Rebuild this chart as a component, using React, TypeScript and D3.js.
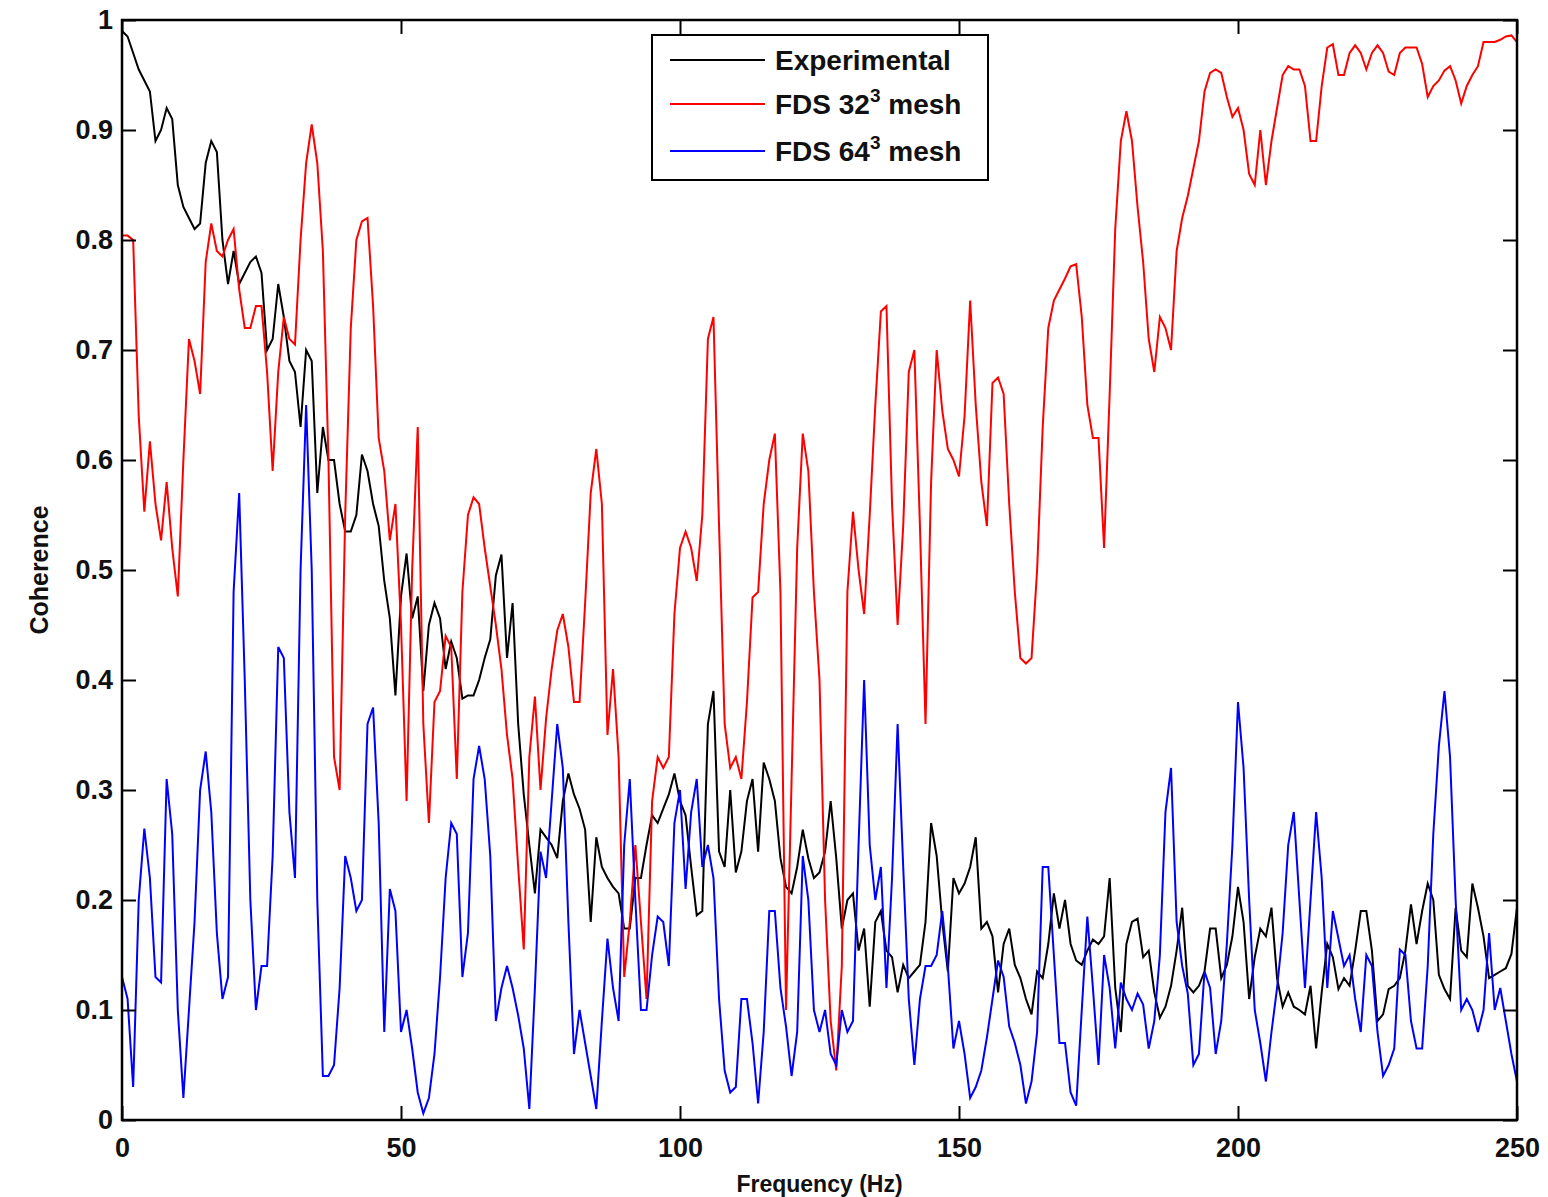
import * as d3 from "d3";
import { useEffect, useRef } from "react";

// frequency spacing of the samples below (Hz)
const FREQ_STEP = 1;

const xTicks = [0, 50, 100, 150, 200, 250];
const yTicks = [0, 0.1, 0.2, 0.3, 0.4, 0.5, 0.6, 0.7, 0.8, 0.9, 1];

const experimental = [
  0.99, 0.985, 0.97, 0.955, 0.945, 0.935, 0.89, 0.9, 0.92, 0.91,
  0.85, 0.83, 0.82, 0.81, 0.815, 0.87, 0.89, 0.88, 0.8, 0.76,
  0.79, 0.76, 0.77, 0.78, 0.785, 0.77, 0.7, 0.71, 0.76, 0.73,
  0.69, 0.68, 0.63, 0.7, 0.69, 0.57, 0.63, 0.6, 0.6, 0.56,
  0.535, 0.535, 0.55, 0.605, 0.59, 0.56, 0.54, 0.49, 0.456, 0.386,
  0.476, 0.515, 0.456, 0.476, 0.39, 0.45, 0.47, 0.456, 0.41, 0.435,
  0.42, 0.383, 0.386, 0.386, 0.4, 0.42, 0.437, 0.495, 0.514, 0.42,
  0.47, 0.36, 0.296, 0.25, 0.206, 0.264, 0.257, 0.25, 0.238, 0.29,
  0.315, 0.296, 0.283, 0.264, 0.18, 0.257, 0.23, 0.22, 0.212, 0.206,
  0.174, 0.174, 0.22, 0.22, 0.25, 0.277, 0.27, 0.283, 0.296, 0.315,
  0.29, 0.277, 0.23, 0.186, 0.19, 0.36, 0.39, 0.244, 0.23, 0.3,
  0.225, 0.244, 0.29, 0.31, 0.244, 0.325, 0.31, 0.29, 0.238, 0.212,
  0.206, 0.23, 0.264, 0.238, 0.22, 0.225, 0.244, 0.29, 0.238, 0.174,
  0.2, 0.206, 0.154, 0.174, 0.103, 0.18, 0.19, 0.154, 0.148, 0.116,
  0.141, 0.129, 0.135, 0.141, 0.18, 0.27, 0.24, 0.18, 0.135, 0.22,
  0.206, 0.215, 0.23, 0.257, 0.174, 0.18, 0.167, 0.116, 0.16, 0.174,
  0.141, 0.129, 0.11, 0.096, 0.135, 0.129, 0.16, 0.206, 0.174, 0.2,
  0.16, 0.145, 0.141, 0.154, 0.164, 0.16, 0.167, 0.22, 0.12, 0.08,
  0.16, 0.18, 0.183, 0.148, 0.154, 0.116, 0.093, 0.103, 0.122, 0.154,
  0.193, 0.122, 0.116, 0.122, 0.135, 0.174, 0.174, 0.129, 0.141, 0.167,
  0.212, 0.18, 0.11, 0.148, 0.174, 0.167, 0.193, 0.129, 0.103, 0.116,
  0.103, 0.1, 0.096, 0.122, 0.065, 0.116, 0.16, 0.148, 0.119, 0.129,
  0.122, 0.154, 0.19, 0.19, 0.154, 0.09, 0.096, 0.119, 0.122, 0.129,
  0.154, 0.196, 0.16, 0.19, 0.215, 0.2, 0.132, 0.119, 0.11, 0.193,
  0.154, 0.148, 0.215, 0.193, 0.167, 0.129, 0.132, 0.135, 0.138, 0.151,
  0.193,
];

const fds32 = [
  0.804, 0.804, 0.8, 0.64, 0.553, 0.617, 0.56, 0.527, 0.58, 0.52,
  0.476, 0.6, 0.71, 0.69, 0.66, 0.78, 0.815, 0.79, 0.785, 0.8,
  0.81, 0.755, 0.72, 0.72, 0.74, 0.74, 0.68, 0.59, 0.68, 0.73,
  0.71, 0.705, 0.8, 0.87, 0.905, 0.87, 0.79, 0.6, 0.33, 0.3,
  0.55, 0.72, 0.8, 0.817, 0.82, 0.74, 0.62, 0.59, 0.527, 0.56,
  0.45, 0.29, 0.5, 0.63, 0.36, 0.27, 0.38, 0.39, 0.44, 0.43,
  0.31, 0.48, 0.55, 0.566, 0.56, 0.52, 0.485, 0.45, 0.41, 0.35,
  0.31, 0.23, 0.155, 0.33, 0.385, 0.3, 0.365, 0.41, 0.445, 0.46,
  0.43, 0.38, 0.38, 0.47, 0.57, 0.61, 0.56, 0.35, 0.41, 0.33,
  0.13, 0.18, 0.25, 0.18, 0.11, 0.29, 0.33, 0.32, 0.33, 0.46,
  0.52, 0.535, 0.52, 0.49, 0.55, 0.71, 0.73, 0.54, 0.36, 0.32,
  0.33, 0.31, 0.38, 0.475, 0.48, 0.56, 0.6, 0.624, 0.48, 0.1,
  0.31, 0.52, 0.624, 0.59, 0.48, 0.4, 0.2, 0.09, 0.045, 0.14,
  0.48, 0.553, 0.5, 0.46, 0.55, 0.65, 0.735, 0.74, 0.56, 0.45,
  0.54, 0.68, 0.7, 0.54, 0.36, 0.58, 0.7, 0.645, 0.61, 0.6,
  0.585, 0.64, 0.745, 0.65, 0.58, 0.54, 0.67, 0.675, 0.66, 0.56,
  0.48, 0.42, 0.415, 0.42, 0.5, 0.63, 0.72, 0.745, 0.755, 0.765,
  0.776, 0.778, 0.73, 0.65, 0.62, 0.62, 0.52, 0.66, 0.81, 0.89,
  0.917, 0.89, 0.83, 0.78, 0.71, 0.68, 0.73, 0.72, 0.7, 0.79,
  0.82, 0.84, 0.865, 0.89, 0.935, 0.952, 0.955, 0.952, 0.93, 0.912,
  0.92, 0.9, 0.86, 0.85, 0.9, 0.85, 0.89, 0.92, 0.95, 0.958,
  0.955, 0.955, 0.94, 0.89, 0.89, 0.94, 0.975, 0.978, 0.95, 0.95,
  0.97, 0.977, 0.97, 0.955, 0.97, 0.977, 0.97, 0.953, 0.95, 0.97,
  0.975, 0.975, 0.975, 0.96, 0.93, 0.94, 0.945, 0.954, 0.958, 0.945,
  0.924, 0.94, 0.95, 0.958, 0.98, 0.98, 0.98, 0.982, 0.985, 0.986,
  0.98,
];

const fds64 = [
  0.13, 0.11, 0.03, 0.2, 0.265, 0.22, 0.13, 0.125, 0.31, 0.26,
  0.1, 0.02, 0.1, 0.18, 0.3, 0.335, 0.28, 0.17, 0.11, 0.13,
  0.48, 0.57, 0.4, 0.2, 0.1, 0.14, 0.14, 0.24, 0.43, 0.42,
  0.28, 0.22, 0.5, 0.65, 0.5, 0.2, 0.04, 0.04, 0.05, 0.12,
  0.24, 0.22, 0.19, 0.2, 0.36, 0.375, 0.27, 0.08, 0.21, 0.19,
  0.08, 0.1, 0.065, 0.025, 0.006, 0.02, 0.06, 0.13, 0.22, 0.27,
  0.26, 0.13, 0.17, 0.31, 0.34, 0.31, 0.24, 0.09, 0.12, 0.14,
  0.12, 0.095, 0.065, 0.01, 0.12, 0.244, 0.22, 0.29, 0.36, 0.32,
  0.18, 0.06, 0.1, 0.07, 0.04, 0.01, 0.09, 0.165, 0.12, 0.09,
  0.25, 0.31, 0.2, 0.1, 0.1, 0.15, 0.185, 0.18, 0.14, 0.27,
  0.3, 0.21, 0.28, 0.31, 0.23, 0.25, 0.22, 0.11, 0.045, 0.025,
  0.03, 0.11, 0.11, 0.07, 0.015, 0.08, 0.19, 0.19, 0.12, 0.085,
  0.04, 0.08, 0.24, 0.2, 0.1, 0.08, 0.1, 0.06, 0.05, 0.1,
  0.08, 0.09, 0.25, 0.4, 0.25, 0.2, 0.23, 0.12, 0.22, 0.36,
  0.23, 0.11, 0.05, 0.11, 0.14, 0.14, 0.15, 0.19, 0.14, 0.065,
  0.09, 0.06, 0.02, 0.03, 0.045, 0.075, 0.11, 0.145, 0.13, 0.085,
  0.07, 0.05, 0.015, 0.035, 0.08, 0.23, 0.23, 0.15, 0.07, 0.07,
  0.025, 0.013, 0.1, 0.185, 0.12, 0.05, 0.15, 0.12, 0.065, 0.125,
  0.11, 0.1, 0.115, 0.105, 0.065, 0.09, 0.15, 0.28, 0.32, 0.18,
  0.14, 0.115, 0.05, 0.06, 0.135, 0.12, 0.06, 0.09, 0.16, 0.25,
  0.38, 0.32, 0.2, 0.1, 0.07, 0.035, 0.08, 0.12, 0.17, 0.25,
  0.28, 0.2, 0.12, 0.2, 0.28, 0.22, 0.12, 0.19, 0.165, 0.14,
  0.15, 0.11, 0.08, 0.15, 0.14, 0.08, 0.04, 0.05, 0.065, 0.155,
  0.15, 0.09, 0.065, 0.065, 0.14, 0.26, 0.34, 0.39, 0.33, 0.2,
  0.1, 0.11, 0.1, 0.08, 0.1, 0.17, 0.1, 0.12, 0.09, 0.06,
  0.035,
];

const seriesNames = ["Experimental", "FDS 32", "FDS 64"];
const seriesSup = ["", "3", "3"];
const seriesColors = ["#000000", "#ff0000", "#0000ff"];

export default function App() {
  const ref = useRef<SVGSVGElement>(null);

  useEffect(() => {
    const svg = d3.select(ref.current);
    svg.selectAll("*").remove();

    const width = 1548;
    const height = 1197;
    const left = 122;
    const right = 1517;
    const top = 20;
    const bottom = 1120;
    const font = '"Liberation Sans", Arial, Helvetica, sans-serif';

    svg.attr("viewBox", `0 0 ${width} ${height}`);
    svg.append("rect").attr("width", width).attr("height", height).attr("fill", "#fff");

    const x = d3.scaleLinear().domain([0, 250]).range([left, right]);
    const y = d3.scaleLinear().domain([0, 1]).range([bottom, top]);

    svg
      .append("clipPath")
      .attr("id", "plot-clip")
      .append("rect")
      .attr("x", left)
      .attr("y", top)
      .attr("width", right - left)
      .attr("height", bottom - top);

    const line = d3
      .line<number>()
      .x((d, i) => x(i * FREQ_STEP))
      .y((d) => y(d));

    const plot = svg.append("g").attr("clip-path", "url(#plot-clip)");
    [experimental, fds32, fds64].forEach((vals, k) => {
      plot
        .append("path")
        .datum(vals)
        .attr("d", line)
        .attr("fill", "none")
        .attr("stroke", seriesColors[k])
        .attr("stroke-width", 2)
        .attr("stroke-linejoin", "miter");
    });

    // axes: inward ticks on all four sides
    const tickLen = 14;
    const styleAxis = (g, size) => {
      g.select(".domain").remove();
      g.attr("font-family", font).attr("font-size", size).attr("font-weight", "bold");
      g.selectAll("line").attr("stroke", "#000").attr("stroke-width", 2);
      g.selectAll("text").attr("fill", "#111");
    };

    const gx = svg
      .append("g")
      .attr("transform", `translate(0,${bottom})`)
      .call(
        d3.axisBottom(x).tickValues(xTicks).tickSizeInner(-tickLen).tickSizeOuter(0)
          .tickPadding(18).tickFormat((d) => String(d))
      );
    styleAxis(gx, 27);

    const gy = svg
      .append("g")
      .attr("transform", `translate(${left},0)`)
      .call(
        d3.axisLeft(y).tickValues(yTicks).tickSizeInner(-tickLen).tickSizeOuter(0)
          .tickPadding(9).tickFormat((d) => String(d))
      );
    styleAxis(gy, 27);

    const gt = svg
      .append("g")
      .attr("transform", `translate(0,${top})`)
      .call(d3.axisTop(x).tickValues(xTicks).tickSizeInner(-tickLen).tickSizeOuter(0).tickFormat(() => ""));
    styleAxis(gt, 27);

    const gr = svg
      .append("g")
      .attr("transform", `translate(${right},0)`)
      .call(d3.axisRight(y).tickValues(yTicks).tickSizeInner(-tickLen).tickSizeOuter(0).tickFormat(() => ""));
    styleAxis(gr, 27);

    // frame
    svg
      .append("rect")
      .attr("x", left)
      .attr("y", top)
      .attr("width", right - left)
      .attr("height", bottom - top)
      .attr("fill", "none")
      .attr("stroke", "#000")
      .attr("stroke-width", 2.5);

    // axis labels
    svg
      .append("text")
      .attr("x", (left + right) / 2)
      .attr("y", 1192)
      .attr("text-anchor", "middle")
      .attr("font-family", font)
      .attr("font-size", 23)
      .attr("font-weight", "bold")
      .attr("fill", "#111")
      .text("Frequency (Hz)");

    svg
      .append("text")
      .attr("transform", `translate(48,${(top + bottom) / 2}) rotate(-90)`)
      .attr("text-anchor", "middle")
      .attr("font-family", font)
      .attr("font-size", 25)
      .attr("font-weight", "bold")
      .attr("fill", "#111")
      .text("Coherence");

    // legend
    const legend = svg.append("g");
    legend
      .append("rect")
      .attr("x", 652)
      .attr("y", 35)
      .attr("width", 336)
      .attr("height", 145)
      .attr("fill", "#fff")
      .attr("stroke", "#000")
      .attr("stroke-width", 2);

    const rowY = [60, 104, 151];
    seriesNames.forEach((name, k) => {
      legend
        .append("line")
        .attr("x1", 670)
        .attr("x2", 765)
        .attr("y1", rowY[k])
        .attr("y2", rowY[k])
        .attr("stroke", seriesColors[k])
        .attr("stroke-width", 2);
      const t = legend
        .append("text")
        .attr("x", 775)
        .attr("y", rowY[k] + 10)
        .attr("font-family", font)
        .attr("font-size", 28)
        .attr("font-weight", "bold")
        .attr("fill", "#111");
      t.append("tspan").text(name);
      if (seriesSup[k]) {
        t.append("tspan").attr("font-size", 19).attr("dy", -12).text(seriesSup[k]);
        t.append("tspan").attr("dy", 12).text(" mesh");
      }
    });
  }, []);

  return (
    <svg
      ref={ref}
      width={1548}
      height={1197}
      style={{ position: "absolute", left: 0, top: 0, display: "block" }}
    />
  );
}
